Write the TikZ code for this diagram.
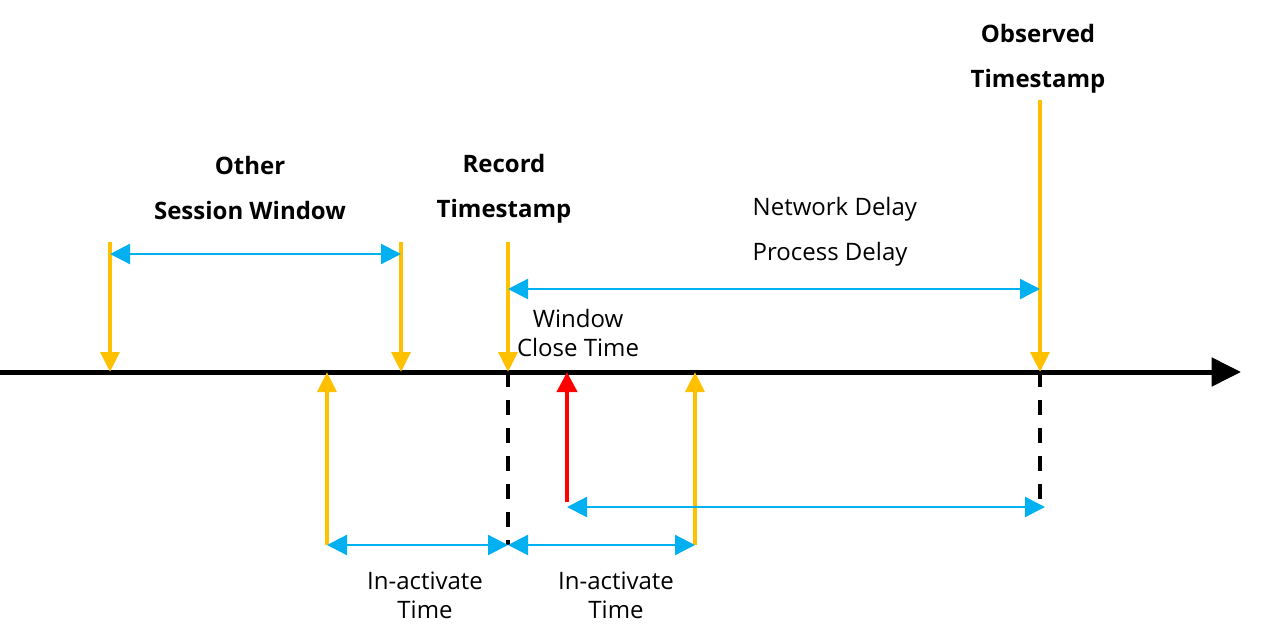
\documentclass[tikz,border=0pt]{standalone}
\usepackage{fontspec}
\setmainfont{Open Sans}
\usepackage{xcolor}
\usetikzlibrary{arrows.meta,positioning}
\definecolor{gold}{HTML}{FFC000}
\definecolor{sky}{HTML}{00B0F0}

\begin{document}
\begin{tikzpicture}[x=0.75pt,y=-0.75pt,
    axis/.style={line width=3.75pt, -{Triangle[length=22pt,width=21pt]}},
    tsdown/.style={gold, line width=3pt, -{Triangle[length=15pt,width=14pt]}},
    tsup/.style={gold, line width=3pt, -{Triangle[length=15pt,width=14pt]}},
    span/.style={sky, line width=1.7pt, {Triangle[length=15pt,width=15pt]}-{Triangle[length=15pt,width=15pt]}},
    guide/.style={line width=3pt, dash pattern=on 11pt off 10pt},
    title/.style={anchor=base, font=\fontsize{18}{21}\selectfont\bfseries},
    label/.style={anchor=base, font=\fontsize{18}{21}\selectfont}]
    \useasboundingbox (0,0) rectangle (1271,639);

    % time axis
    \coordinate (start) at (0,372);
    \coordinate (end) at (1241,372);
    \draw[axis] (start) -- (end);

    % timestamps on the axis
    \coordinate (a) at (110,372);
    \coordinate (b) at (401,372);
    \coordinate (rec) at (508,372);
    \coordinate (obs) at (1040,372);
    \coordinate (c) at (327,372);
    \coordinate (d) at (695,372);
    \coordinate (close) at (567,372);

    \coordinate (atop) at (110,242);
    \coordinate (btop) at (401,242);
    \coordinate (rectop) at (508,242);
    \coordinate (obstop) at (1040,100);
    \coordinate (cbot) at (327,545);
    \coordinate (dbot) at (695,545);
    \coordinate (closebot) at (567,502);
    \coordinate (recbot) at (508,545);
    \coordinate (obsbot) at (1040,502);

    \draw[tsdown] (atop) -- (a);
    \draw[tsdown] (btop) -- (b);
    \draw[tsdown] (rectop) -- (rec);
    \draw[tsdown] (obstop) -- (obs);
    \draw[tsup] (cbot) -- (c);
    \draw[tsup] (dbot) -- (d);
    \draw[red, line width=3pt, -{Triangle[length=15pt,width=15pt]}] (closebot) -- (close);

    \draw[guide] (rec) -- (recbot);
    \draw[guide] (obs) -- (obsbot);

    % spans
    \draw[span] (110,254) -- (401,254);
    \draw[span] (508,289) -- (1040,289);
    \draw[span] (567,507) -- (1045,507);
    \draw[span] (cbot) -- (recbot);
    \draw[span] (recbot) -- (dbot);

    % labels
    \node[title] (other1) at (250,174) {Other};
    \node[title] (other2) at (250,219) {Session Window};
    \node[title] (rec1) at (504,172) {Record};
    \node[title] (rec2) at (504,217) {Timestamp};
    \node[title] (obs1) at (1038,42) {Observed};
    \node[title] (obs2) at (1038,87) {Timestamp};
    \node[label, anchor=base west] (net) at (748,215) {Network Delay};
    \node[label, anchor=base west] (proc) at (748,260) {Process Delay};
    \node[label] (win1) at (578,327) {Window};
    \node[label] (win2) at (578,356) {Close Time};
    \node[label] (in1) at (425,589) {In-activate};
    \node[label] (in2) at (425,618) {Time};
    \node[label] (in3) at (616,589) {In-activate};
    \node[label] (in4) at (616,618) {Time};
\end{tikzpicture}
\end{document}
